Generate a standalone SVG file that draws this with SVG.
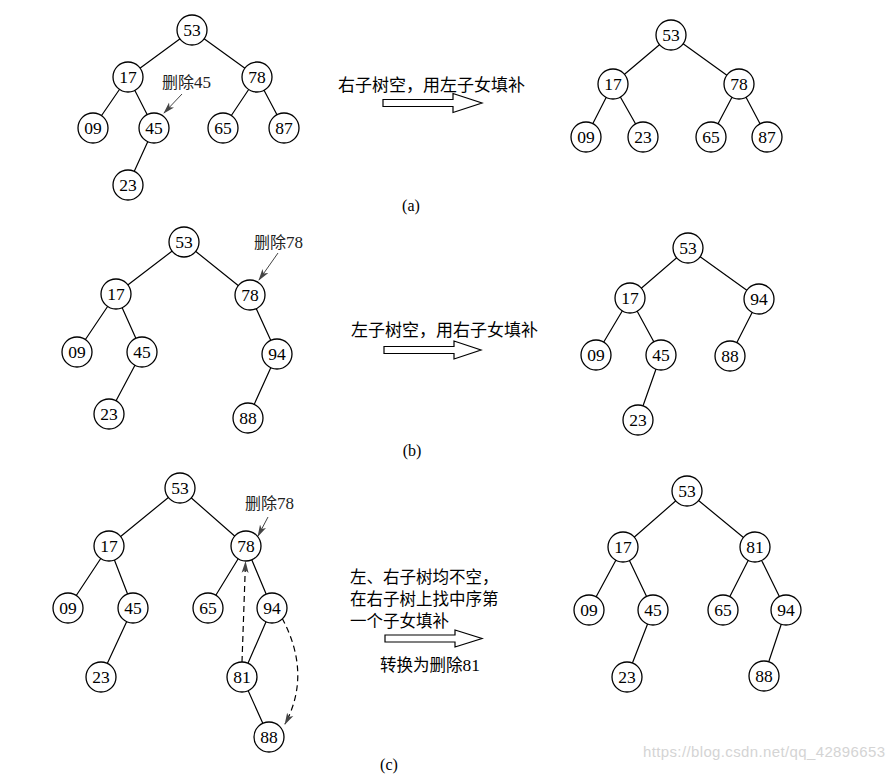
<svg xmlns="http://www.w3.org/2000/svg" width="895" height="774" viewBox="0 0 895 774">
<defs>
<style>
.e{stroke:#000;stroke-width:1.2;fill:none}
.n circle{fill:#fff;stroke:#000;stroke-width:1.3}
.n text{font-family:"Liberation Serif",serif;font-size:17.5px;text-anchor:middle;fill:#000}
.lbl{font-family:"Noto Sans CJK SC",sans-serif;font-size:16px;fill:#222}
.cn{font-family:"Noto Sans CJK SC",sans-serif;font-size:17px;fill:#000}
.d{font-family:"Liberation Serif",serif;font-size:17px}
.cap{font-family:"Liberation Serif",serif;font-size:16px;text-anchor:middle;fill:#000}
.ann{stroke:#444;stroke-width:1;fill:none;marker-end:url(#thin)}
.dash{stroke:#000;stroke-width:1.2;fill:none;stroke-dasharray:6,4;marker-end:url(#thin)}
.big{fill:#fff;stroke:#000;stroke-width:1.2}
</style>
<marker id="thin" viewBox="0 0 12 8" refX="11" refY="4" markerWidth="12" markerHeight="8" markerUnits="userSpaceOnUse" orient="auto">
<path d="M0,0.5 L12,4 L0,7.5 L3,4 Z" fill="#444"/>
</marker>
</defs>
<g id="connectors">
<path class="e" d="M192,30L128,77M192,30L257,77M128,77L93,128M128,77L154,128M154,128L128,185M257,77L223,128M257,77L284,128"/>
<path class="e" d="M671,35L613,84M671,35L739,84M613,84L586,137M613,84L643,137M739,84L711,137M739,84L767,137"/>
<path class="e" d="M184,242L116,294M184,242L250,295M116,294L77,352M116,294L142,352M142,352L109,414M250,295L277,354M277,354L248,418"/>
<path class="e" d="M688,248L630,298M688,248L759,299M630,298L596,355M630,298L661,355M661,355L638,420M759,299L730,356"/>
<path class="e" d="M180,488L109,546M180,488L246,546M109,546L68,608M109,546L133,608M133,608L101,677M246,546L208,608M246,546L272,608M272,608L242,677M242,677L269,737"/>
<path class="e" d="M687,491L623,547M687,491L755,547M623,547L589,610M623,547L653,610M653,610L627,677M755,547L723,610M755,547L786,610M786,610L764,676"/>
<path class="ann" d="M182,94L164,113"/>
<path class="ann" d="M278,253L259,280"/>
<path class="ann" d="M268,517L258,536"/>
<path class="dash" d="M242,662L245.5,562"/>
<path class="dash" d="M282,618Q312,674 285,724"/>
</g>
<g id="tree-a-left">
<g id="a1-53" class="n"><circle cx="192" cy="30" r="15"/><text x="192" y="36">53</text></g>
<g id="a1-17" class="n"><circle cx="128" cy="77" r="15"/><text x="128" y="83">17</text></g>
<g id="a1-78" class="n"><circle cx="257" cy="77" r="15"/><text x="257" y="83">78</text></g>
<g id="a1-09" class="n"><circle cx="93" cy="128" r="15"/><text x="93" y="134">09</text></g>
<g id="a1-45" class="n"><circle cx="154" cy="128" r="15"/><text x="154" y="134">45</text></g>
<g id="a1-65" class="n"><circle cx="223" cy="128" r="15"/><text x="223" y="134">65</text></g>
<g id="a1-87" class="n"><circle cx="284" cy="128" r="15"/><text x="284" y="134">87</text></g>
<g id="a1-23" class="n"><circle cx="128" cy="185" r="15"/><text x="128" y="191">23</text></g>
</g>
<g id="tree-a-right">
<g id="a2-53" class="n"><circle cx="671" cy="35" r="15"/><text x="671" y="41">53</text></g>
<g id="a2-17" class="n"><circle cx="613" cy="84" r="15"/><text x="613" y="90">17</text></g>
<g id="a2-78" class="n"><circle cx="739" cy="84" r="15"/><text x="739" y="90">78</text></g>
<g id="a2-09" class="n"><circle cx="586" cy="137" r="15"/><text x="586" y="143">09</text></g>
<g id="a2-23" class="n"><circle cx="643" cy="137" r="15"/><text x="643" y="143">23</text></g>
<g id="a2-65" class="n"><circle cx="711" cy="137" r="15"/><text x="711" y="143">65</text></g>
<g id="a2-87" class="n"><circle cx="767" cy="137" r="15"/><text x="767" y="143">87</text></g>
</g>
<g id="tree-b-left">
<g id="b1-53" class="n"><circle cx="184" cy="242" r="15"/><text x="184" y="248">53</text></g>
<g id="b1-17" class="n"><circle cx="116" cy="294" r="15"/><text x="116" y="300">17</text></g>
<g id="b1-78" class="n"><circle cx="250" cy="295" r="15"/><text x="250" y="301">78</text></g>
<g id="b1-09" class="n"><circle cx="77" cy="352" r="15"/><text x="77" y="358">09</text></g>
<g id="b1-45" class="n"><circle cx="142" cy="352" r="15"/><text x="142" y="358">45</text></g>
<g id="b1-94" class="n"><circle cx="277" cy="354" r="15"/><text x="277" y="360">94</text></g>
<g id="b1-23" class="n"><circle cx="109" cy="414" r="15"/><text x="109" y="420">23</text></g>
<g id="b1-88" class="n"><circle cx="248" cy="418" r="15"/><text x="248" y="424">88</text></g>
</g>
<g id="tree-b-right">
<g id="b2-53" class="n"><circle cx="688" cy="248" r="15"/><text x="688" y="254">53</text></g>
<g id="b2-17" class="n"><circle cx="630" cy="298" r="15"/><text x="630" y="304">17</text></g>
<g id="b2-94" class="n"><circle cx="759" cy="299" r="15"/><text x="759" y="305">94</text></g>
<g id="b2-09" class="n"><circle cx="596" cy="355" r="15"/><text x="596" y="361">09</text></g>
<g id="b2-45" class="n"><circle cx="661" cy="355" r="15"/><text x="661" y="361">45</text></g>
<g id="b2-88" class="n"><circle cx="730" cy="356" r="15"/><text x="730" y="362">88</text></g>
<g id="b2-23" class="n"><circle cx="638" cy="420" r="15"/><text x="638" y="426">23</text></g>
</g>
<g id="tree-c-left">
<g id="c1-53" class="n"><circle cx="180" cy="488" r="15"/><text x="180" y="494">53</text></g>
<g id="c1-17" class="n"><circle cx="109" cy="546" r="15"/><text x="109" y="552">17</text></g>
<g id="c1-78" class="n"><circle cx="246" cy="546" r="15"/><text x="246" y="552">78</text></g>
<g id="c1-09" class="n"><circle cx="68" cy="608" r="15"/><text x="68" y="614">09</text></g>
<g id="c1-45" class="n"><circle cx="133" cy="608" r="15"/><text x="133" y="614">45</text></g>
<g id="c1-65" class="n"><circle cx="208" cy="608" r="15"/><text x="208" y="614">65</text></g>
<g id="c1-94" class="n"><circle cx="272" cy="608" r="15"/><text x="272" y="614">94</text></g>
<g id="c1-23" class="n"><circle cx="101" cy="677" r="15"/><text x="101" y="683">23</text></g>
<g id="c1-81" class="n"><circle cx="242" cy="677" r="15"/><text x="242" y="683">81</text></g>
<g id="c1-88" class="n"><circle cx="269" cy="737" r="15"/><text x="269" y="743">88</text></g>
</g>
<g id="tree-c-right">
<g id="c2-53" class="n"><circle cx="687" cy="491" r="15"/><text x="687" y="497">53</text></g>
<g id="c2-17" class="n"><circle cx="623" cy="547" r="15"/><text x="623" y="553">17</text></g>
<g id="c2-81" class="n"><circle cx="755" cy="547" r="15"/><text x="755" y="553">81</text></g>
<g id="c2-09" class="n"><circle cx="589" cy="610" r="15"/><text x="589" y="616">09</text></g>
<g id="c2-45" class="n"><circle cx="653" cy="610" r="15"/><text x="653" y="616">45</text></g>
<g id="c2-65" class="n"><circle cx="723" cy="610" r="15"/><text x="723" y="616">65</text></g>
<g id="c2-94" class="n"><circle cx="786" cy="610" r="15"/><text x="786" y="616">94</text></g>
<g id="c2-23" class="n"><circle cx="627" cy="677" r="15"/><text x="627" y="683">23</text></g>
<g id="c2-88" class="n"><circle cx="764" cy="676" r="15"/><text x="764" y="682">88</text></g>
</g>
<g id="annotations">
<text class="lbl" x="162" y="88">删除<tspan class="d">45</tspan></text>
<text class="lbl" x="254" y="248">删除<tspan class="d">78</tspan></text>
<text class="lbl" x="245" y="509">删除<tspan class="d">78</tspan></text>
</g>
<g id="step-a">
<text class="cn" x="338" y="91">右子树空，用左子女填补</text>
<path class="big" d="M383,99.5H453V93.5L482,103L453,112.5V106.5H383Z"/>
</g>
<g id="step-b">
<text class="cn" x="351" y="336">左子树空，用右子女填补</text>
<path class="big" d="M384,346.5H454V341L481,350L454,359V353.5H384Z"/>
</g>
<g id="step-c">
<text class="cn" x="350" y="583" style="font-size:16.5px">左、右子树均不空，</text>
<text class="cn" x="350" y="605" style="font-size:16.5px">在右子树上找中序第</text>
<text class="cn" x="350" y="627" style="font-size:16.5px">一个子女填补</text>
<path class="big" d="M385,635H455V630L482,638.5L455,647V642H385Z"/>
<text class="cn" x="380" y="671" style="font-size:16.5px">转换为删除<tspan class="d" style="font-size:17.5px">81</tspan></text>
</g>
<g id="captions">
<text class="cap" x="411" y="211">(a)</text>
<text class="cap" x="412" y="456">(b)</text>
<text class="cap" x="389" y="770">(c)</text>
</g>
<text x="643" y="757" textLength="242" style="font-family:'Liberation Sans',sans-serif;font-size:15px;fill:#d4d4d4">https://blog.csdn.net/qq_42896653</text>
</svg>
